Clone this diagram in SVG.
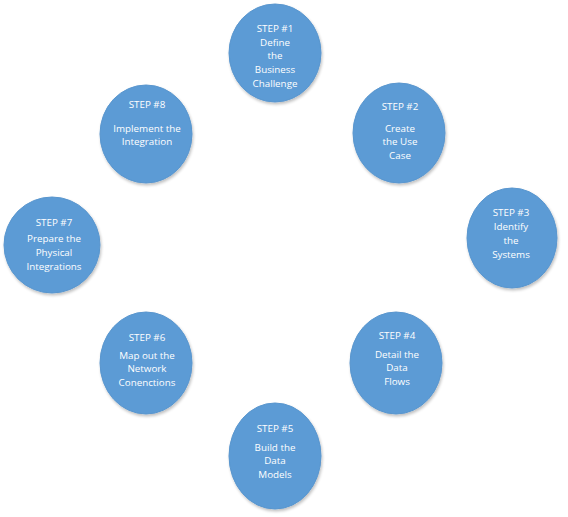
<svg xmlns="http://www.w3.org/2000/svg" width="568" height="517" viewBox="0 0 568 517">
<defs>
<filter id="sh" x="-20%" y="-20%" width="140%" height="140%">
<feGaussianBlur in="SourceAlpha" stdDeviation="1.5"/>
<feOffset dx="0.5" dy="1.5" result="b"/>
<feComponentTransfer><feFuncA type="linear" slope="0.25"/></feComponentTransfer>
<feMerge><feMergeNode/><feMergeNode in="SourceGraphic"/></feMerge>
</filter>
</defs>
<style>
.c{fill:#5B9BD5;stroke:#5A96CE;stroke-width:1;filter:url(#sh)}
.t{font-family:"Open Sans","Liberation Sans",sans-serif;font-size:9.8px;font-weight:500;fill:#FFFFFF;text-anchor:middle}
</style>
<rect width="568" height="517" fill="#FFFFFF"/>
<g id="connectors"></g>
<g id="step1">
<ellipse class="c" cx="275" cy="53" rx="46" ry="49"/>
<text class="t" x="275" y="32">STEP #1</text>
<text class="t" x="275" y="46">Define</text>
<text class="t" x="275" y="59">the</text>
<text class="t" x="275" y="73">Business</text>
<text class="t" x="275" y="87">Challenge</text>
</g>
<g id="step2">
<ellipse class="c" cx="399" cy="133" rx="46" ry="50"/>
<text class="t" x="400" y="110">STEP #2</text>
<text class="t" x="400" y="132">Create</text>
<text class="t" x="400" y="145">the Use</text>
<text class="t" x="400" y="159">Case</text>
</g>
<g id="step3">
<ellipse class="c" cx="512" cy="238" rx="45" ry="50"/>
<text class="t" x="511" y="216">STEP #3</text>
<text class="t" x="511" y="230">Identify</text>
<text class="t" x="511" y="244">the</text>
<text class="t" x="511" y="258">Systems</text>
</g>
<g id="step4">
<ellipse class="c" cx="396" cy="363" rx="46" ry="51"/>
<text class="t" x="397" y="339">STEP #4</text>
<text class="t" x="397" y="358">Detail the</text>
<text class="t" x="397" y="371">Data</text>
<text class="t" x="397" y="385">Flows</text>
</g>
<g id="step5">
<ellipse class="c" cx="275" cy="456" rx="46" ry="53"/>
<text class="t" x="275" y="432">STEP #5</text>
<text class="t" x="275" y="451">Build the</text>
<text class="t" x="275" y="464">Data</text>
<text class="t" x="275" y="478">Models</text>
</g>
<g id="step6">
<ellipse class="c" cx="146" cy="363" rx="46" ry="51"/>
<text class="t" x="147" y="341">STEP #6</text>
<text class="t" x="147" y="359">Map out the</text>
<text class="t" x="147" y="372">Network</text>
<text class="t" x="147" y="386">Conenctions</text>
</g>
<g id="step7">
<ellipse class="c" cx="52" cy="245" rx="48" ry="48"/>
<text class="t" x="54" y="226">STEP #7</text>
<text class="t" x="54" y="242">Prepare the</text>
<text class="t" x="54" y="256">Physical</text>
<text class="t" x="54" y="270">Integrations</text>
</g>
<g id="step8">
<ellipse class="c" cx="146" cy="134" rx="46" ry="49"/>
<text class="t" x="147" y="108">STEP #8</text>
<text class="t" x="147" y="132">Implement the</text>
<text class="t" x="147" y="145">Integration</text>
</g>
</svg>
